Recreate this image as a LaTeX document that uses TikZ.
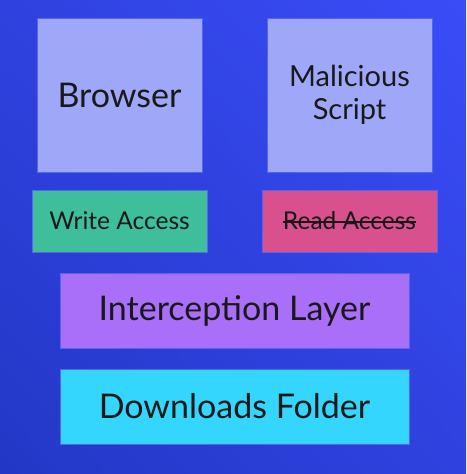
\documentclass[tikz,border=0pt]{standalone}
\usepackage{fontspec}
\setmainfont{Lato}
\usetikzlibrary{positioning}
\usetikzlibrary{shadings}
\definecolor{bgtop}{HTML}{3A4CF7}
\definecolor{bgmid}{HTML}{2F42DF}
\definecolor{bgbot}{HTML}{2337C6}
\definecolor{edge}{HTML}{5566EE}
\definecolor{lilac}{HTML}{9FA7F9}
\definecolor{green}{HTML}{3FBE9C}
\definecolor{pink}{HTML}{D9508E}
\definecolor{purple}{HTML}{A96FF8}
\definecolor{cyan}{HTML}{35D6FD}
\newlength{\strikelen}
\newcommand{\striked}[1]{\settowidth{\strikelen}{#1}\rlap{#1}\rule[0.3em]{\strikelen}{1.4pt}}

\begin{document}
\begin{tikzpicture}[x=1pt,y=-1pt,
    box/.style={draw=edge,line width=0.8pt,inner sep=0pt,text=black!90,align=center},
    bigbox/.style={box,fill=lilac,minimum width=165pt,minimum height=154pt,font=\fontsize{34}{36}\selectfont},
    accbox/.style={box,minimum width=175pt,minimum height=62pt,font=\fontsize{24.5}{26}\selectfont},
    layerbox/.style={box,minimum width=349pt,minimum height=75pt,font=\fontsize{34}{36}\selectfont}]
	% background
	\shade[lower left=bgbot,upper right=bgtop,lower right=bgmid,upper left=bgmid] (0,0) rectangle (466,474);

	% top row
	\node[bigbox] (browser) at (119.5,95) {Browser};
	\node[bigbox,font=\fontsize{29}{33}\selectfont] (script) at (349.5,95) {Malicious\\Script};

	% access row
	\node[accbox,fill=green] (write) at (119.5,221) {Write Access};
	\node[accbox,fill=pink] (read) at (349.5,221) {\striked{Read Access}};

	% layers
	\node[layerbox,fill=purple] (layer) at (234.5,310.5) {Interception Layer};
	\node[layerbox,fill=cyan] (folder) at (234.5,406.5) {Downloads Folder};
\end{tikzpicture}
\end{document}
